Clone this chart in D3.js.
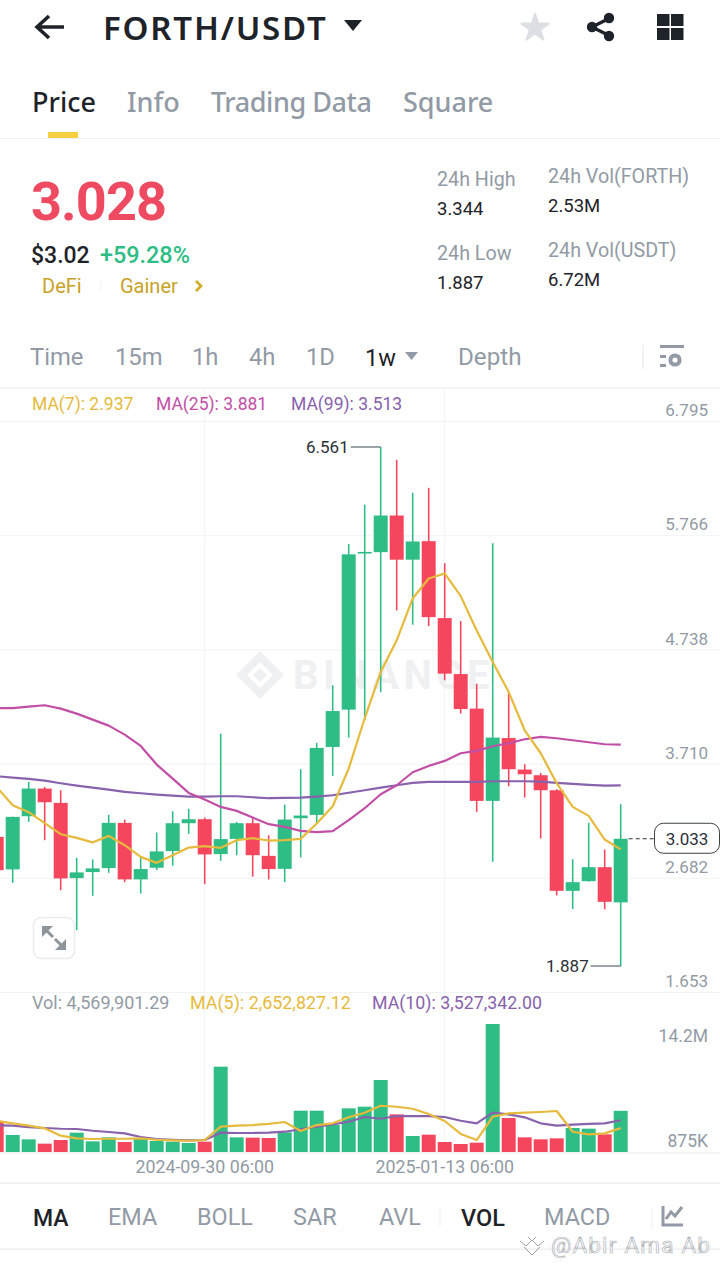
<!DOCTYPE html>
<html><head><meta charset="utf-8">
<script src="https://cdn.jsdelivr.net/npm/d3@7/dist/d3.min.js"></script>
<style>html,body{margin:0;padding:0;background:#fff}svg{display:block}</style></head>
<body><svg id="c" width="720" height="1266" viewBox="0 0 720 1266"></svg>
<script>
const dates=["2024-07-01","2024-07-08","2024-07-15","2024-07-22","2024-07-29","2024-08-05","2024-08-12","2024-08-19","2024-08-26","2024-09-02","2024-09-09","2024-09-16","2024-09-23","2024-09-30","2024-10-07","2024-10-14","2024-10-21","2024-10-28","2024-11-04","2024-11-11","2024-11-18","2024-11-25","2024-12-02","2024-12-09","2024-12-16","2024-12-23","2024-12-30","2025-01-06","2025-01-13","2025-01-20","2025-01-27","2025-02-03","2025-02-10","2025-02-17","2025-02-24","2025-03-03","2025-03-10","2025-03-17","2025-03-24","2025-03-31"];
const open=[3.050,2.757,3.236,3.485,3.356,2.679,2.733,2.769,3.176,2.667,2.772,2.922,3.173,3.209,2.895,3.032,3.173,2.879,2.762,3.218,3.248,3.860,4.196,5.602,5.614,5.944,5.546,5.713,5.020,4.516,4.205,3.374,3.940,3.656,3.605,3.470,2.564,2.651,2.777,2.460];
const high=[3.080,3.232,3.545,3.500,3.470,2.861,2.847,3.248,3.206,2.870,3.090,3.281,3.302,3.224,3.980,3.185,3.224,3.065,3.341,3.659,3.896,4.415,5.687,6.042,6.561,6.445,6.148,6.193,5.515,4.993,4.430,5.695,4.354,3.704,3.626,3.479,2.849,3.176,2.936,3.344];
const low=[2.720,2.636,3.185,3.020,2.570,2.211,2.519,2.726,2.642,2.540,2.750,2.790,3.077,2.624,2.834,2.885,2.691,2.667,2.642,2.865,3.173,3.599,3.944,4.100,4.354,5.089,4.961,4.948,4.460,4.160,3.275,2.825,3.506,3.404,3.035,2.522,2.400,2.646,2.398,1.887];
const close=[2.750,3.230,3.485,3.362,2.676,2.730,2.766,3.176,2.667,2.760,2.919,3.173,3.209,2.892,3.030,3.173,2.885,2.760,3.206,3.242,3.851,4.183,5.594,5.616,5.944,5.546,5.710,5.029,4.520,4.201,3.374,3.944,3.659,3.614,3.470,2.564,2.642,2.777,2.465,3.033];
const ma7=[3.497,3.335,3.272,3.173,3.074,3.041,3.000,3.059,2.975,2.870,2.816,2.885,2.954,2.966,2.951,3.020,3.038,3.017,3.020,3.032,3.170,3.326,3.665,4.118,4.534,4.820,5.197,5.377,5.422,5.218,4.909,4.624,4.354,4.010,3.803,3.533,3.320,3.239,3.026,2.937];
const ma25=[4.210,4.210,4.223,4.235,4.205,4.160,4.106,4.052,3.971,3.869,3.701,3.575,3.446,3.386,3.320,3.284,3.224,3.164,3.140,3.104,3.092,3.101,3.200,3.308,3.434,3.515,3.632,3.689,3.734,3.803,3.824,3.866,3.893,3.929,3.950,3.938,3.920,3.902,3.884,3.881];
const ma99=[3.596,3.584,3.572,3.557,3.533,3.512,3.494,3.476,3.455,3.443,3.431,3.422,3.413,3.413,3.416,3.416,3.407,3.398,3.401,3.404,3.413,3.425,3.447,3.470,3.494,3.515,3.536,3.545,3.545,3.545,3.545,3.551,3.551,3.551,3.548,3.536,3.527,3.518,3.512,3.513];
const volume=[3.36,1.885,1.405,0.924,1.33,2.144,1.183,1.627,1.109,1.442,1.22,1.146,0.998,1.146,9.463,1.627,1.59,1.553,2.181,4.584,4.584,2.994,4.843,5.027,7.985,4.176,1.774,1.922,1.109,0.887,1.035,14.2,3.77,1.627,1.405,1.516,2.662,2.588,1.96,4.57];
const volMa5=[3.44,3.18,2.92,2.63,1.81,1.52,1.44,1.47,1.47,1.52,1.36,1.30,1.25,1.33,2.81,2.92,2.99,3.11,3.33,2.33,2.99,3.18,3.85,4.36,5.13,5.02,4.80,4.21,3.44,2.00,1.33,3.91,4.29,4.36,4.44,4.55,2.25,1.96,2.07,2.65];
const volMa10=[2.96,2.92,2.77,2.66,2.58,2.55,2.36,2.22,2.07,1.66,1.44,1.36,1.30,1.33,2.14,2.11,2.11,2.14,2.25,2.52,2.81,3.07,3.36,3.88,3.69,3.99,3.99,3.99,3.88,3.47,3.18,4.36,4.18,3.85,3.18,2.92,3.03,3.11,3.18,3.527];
const priceTicks=[6.795,5.766,4.738,3.710,2.682,1.653];
const volTicks=[14.2,0.875];
const volTickLabels=["14.2M","875K"];
const dateTicks=["2024-09-30","2025-01-13"];
const lastPrice=3.033, topPrice=6.561, bottomPrice=1.887;

const GREEN="#2EBD85",RED="#F6465D",YEL="#E6BA3C",PINK="#C24FA6",PUR="#8862AC",GREY="#929AA5",INK="#1E2329",GRID="#F1F2F3";
const svg=d3.select("#c");
const T=(s,x,y,size,fill,opts={})=>svg.append("text").text(s).attr("x",x).attr("y",y)
  .attr("font-family",opts.font||"Roboto, sans-serif").attr("font-size",size).attr("fill",fill)
  .attr("font-weight",opts.w||400).attr("text-anchor",opts.a||"start").attr("letter-spacing",opts.ls||0);
const N='"Noto Sans", sans-serif';

// scales
const x=d3.scaleBand().domain(dates).range([-11.3,628.7]).paddingInner(0.125).paddingOuter(0.0625);
const cx=d=>x(d)+x.bandwidth()/2;
const y=d3.scaleLinear().domain([1.653,6.795]).range([992,421]);
const yv=d3.scaleLinear().domain([0,14.2]).range([1152,1024]);

// chrome: header
svg.append("path").attr("d","M64 27H37M49 16L37 27L49 38").attr("fill","none").attr("stroke",INK).attr("stroke-width",3.6);
T("FORTH/USDT",103,40,33,INK,{font:N,w:600,ls:1.8});
svg.append("path").attr("d","M344 20H362L353 31Z").attr("fill",INK);
svg.append("path").attr("d",d3.symbol(d3.symbolStar,230)()).attr("transform","translate(535,28)").attr("fill","#DCDFE3").attr("stroke","#DCDFE3").attr("stroke-width",2).attr("stroke-linejoin","round");
svg.append("path").attr("d","M610 18L592 27L610 36").attr("fill","none").attr("stroke",INK).attr("stroke-width",3.4);
[[609,18],[592,27],[609,36]].forEach(p=>svg.append("circle").attr("cx",p[0]).attr("cy",p[1]).attr("r",5.2).attr("fill",INK));
[[657,14],[671,14],[657,28],[671,28]].forEach(p=>svg.append("rect").attr("x",p[0]).attr("y",p[1]).attr("width",12.5).attr("height",12).attr("fill",INK));
T("Price",32,112,27,INK,{font:N,w:500});
T("Info",127,112,27,GREY,{font:N,w:500});
T("Trading Data",211,112,27,GREY,{font:N,w:500,ls:-0.45});
T("Square",403,112,27,GREY,{font:N,w:500});
svg.append("rect").attr("x",48).attr("y",132).attr("width",30).attr("height",6).attr("fill","#F5CF3D");
svg.append("rect").attr("x",0).attr("y",138).attr("width",720).attr("height",1).attr("fill","#EEF0F1");

// stats
T("3.028",31,220,54,"#EE4B62",{w:700,ls:-0.9});
T("$3.02",31,263,23,INK,{w:500});
T("+59.28%",100,263,23.4,GREEN,{w:500});
T("DeFi",42,293,20,"#C9A227");
T("Gainer",120,293,20,"#C9A227");
svg.append("rect").attr("x",100.5).attr("y",281).attr("width",1).attr("height",10).attr("fill","#EEF0F1");
svg.append("path").attr("d","M196 281L201 286L196 291").attr("fill","none").attr("stroke","#D4AC2C").attr("stroke-width",2.8);
T("24h High",437,186,19.7,GREY);
T("3.344",437,215,18.5,INK);
T("24h Low",437,260,19.7,GREY);
T("1.887",437,289,18.5,INK);
T("24h Vol(FORTH)",548,183,19.7,GREY);
T("2.53M",548,212,18.5,INK);
T("24h Vol(USDT)",548,257,19.7,GREY);
T("6.72M",548,286,18.5,INK);

// interval row
[["Time",30],["15m",115],["1h",192],["4h",249],["1D",306]].forEach(d=>T(d[0],d[1],365,23.8,GREY));
T("Depth",458,365,24.2,GREY);
T("1w",365,366,23.5,INK,{w:400});
svg.append("path").attr("d","M405 352H418L411.5 360Z").attr("fill",GREY);
svg.append("rect").attr("x",642.5).attr("y",345).attr("width",1).attr("height",24).attr("fill","#E6E8EA");
svg.append("rect").attr("x",660).attr("y",345).attr("width",24).attr("height",3).attr("fill",GREY);
svg.append("rect").attr("x",660).attr("y",355).attr("width",6).attr("height",3).attr("fill",GREY);
svg.append("rect").attr("x",660).attr("y",364).attr("width",6).attr("height",3).attr("fill",GREY);
svg.append("circle").attr("cx",675).attr("cy",360).attr("r",4.6).attr("fill","none").attr("stroke",GREY).attr("stroke-width",4);

// panel lines
svg.append("rect").attr("x",0).attr("y",387).attr("width",720).attr("height",1.5).attr("fill",GRID);
dateTicks.forEach(d=>svg.append("rect").attr("x",cx(d)-0.5).attr("y",388).attr("width",1).attr("height",764).attr("fill",GRID));

// price axis (gridlines + labels)
const gy=svg.append("g").call(d3.axisRight(y).tickValues(priceTicks).tickSize(720).tickFormat(d3.format(".3f")));
gy.select(".domain").remove();
gy.selectAll("line").attr("stroke",GRID).attr("stroke-width",1);
gy.selectAll("text").attr("x",708).attr("dy",-5.4).attr("text-anchor","end").attr("font-family","Roboto, sans-serif").attr("font-size",17).attr("fill",GREY);

// watermark
const wm=svg.append("g");
wm.append("path").attr("d","M260 651L284 675L260 699L236 675Z M260 662L247 675L260 688L273 675Z").attr("fill","#EFF0F2").attr("fill-rule","evenodd");
wm.append("rect").attr("x",-5).attr("y",-5).attr("width",10).attr("height",10).attr("transform","translate(260,675) rotate(45)").attr("fill","#EFF0F2");
wm.append("text").text("BINANCE").attr("x",293).attr("y",689).attr("fill","#EFF0F2").attr("font-family","Roboto, sans-serif").attr("font-weight",700).attr("font-size",40).attr("letter-spacing",4.5);

// candles
const idx=d3.range(dates.length);
const col=i=>close[i]>=open[i]?GREEN:RED;
const cg=svg.append("g");
cg.selectAll("line").data(idx).join("line").attr("x1",i=>cx(dates[i])).attr("x2",i=>cx(dates[i]))
  .attr("y1",i=>y(high[i])).attr("y2",i=>y(low[i])).attr("stroke",col).attr("stroke-width",1.6);
cg.selectAll("rect").data(idx).join("rect").attr("x",i=>x(dates[i])).attr("width",x.bandwidth())
  .attr("y",i=>y(Math.max(open[i],close[i]))).attr("height",i=>Math.max(1.6,Math.abs(y(open[i])-y(close[i])))).attr("fill",col);

// MA lines
const line=(arr,sc)=>d3.line().x(i=>cx(dates[i])).y(i=>sc(arr[i]))(idx);
[[ma99,PUR],[ma25,PINK],[ma7,YEL]].forEach(m=>svg.append("path").attr("d",line(m[0],y)).attr("fill","none").attr("stroke",m[1]).attr("stroke-width",2.2).attr("stroke-linejoin","round"));

// legends
T("MA(7): 2.937",32,410,17.5,YEL);
T("MA(25): 3.881",156,410,17.5,PINK);
T("MA(99): 3.513",291,410,17.5,PUR);

// high / low / last markers
const lab="#2B3139";
const hiI=high.indexOf(topPrice), loI=low.indexOf(bottomPrice), lastI=dates.length-1;
svg.append("path").attr("d",`M${cx(dates[hiI])} ${y(topPrice)}H${cx(dates[hiI])-30}`).attr("stroke","#5C6570").attr("stroke-width",1.2);
T("6.561",cx(dates[hiI])-32,y(topPrice)+6,17,lab,{a:"end"});
svg.append("path").attr("d",`M${cx(dates[loI])} ${y(bottomPrice)}H${cx(dates[loI])-30}`).attr("stroke","#5C6570").attr("stroke-width",1.2);
T("1.887",cx(dates[loI])-32,y(bottomPrice)+6,17,lab,{a:"end"});
svg.append("path").attr("d",`M${cx(dates[lastI])+8} ${y(lastPrice)}H654`).attr("stroke","#333").attr("stroke-width",1).attr("stroke-dasharray","4 3");
svg.append("rect").attr("x",654.5).attr("y",y(lastPrice)-15.5).attr("width",65).attr("height",30).attr("rx",9).attr("fill","#fff").attr("stroke","#3A4047").attr("stroke-width",1);
T("3.033",687,y(lastPrice)+6,17,lab,{a:"middle"});

// expand button
svg.append("rect").attr("x",33.5).attr("y",917.5).attr("width",41).attr("height",41).attr("rx",8).attr("fill","#fff").attr("stroke","#EBECEE").attr("stroke-width",1.5);
svg.append("path").attr("d","M42 926H53L42 937Z M66 950H55L66 939Z").attr("fill","#8E949C");
svg.append("path").attr("d","M46 930L53 937M62 946L55 939").attr("stroke","#8E949C").attr("stroke-width",3);

// volume panel
svg.append("rect").attr("x",0).attr("y",1152).attr("width",720).attr("height",1.5).attr("fill",GRID);
T("Vol: 4,569,901.29",32,1009,18,GREY);
T("MA(5): 2,652,827.12",190,1009,17.9,YEL);
T("MA(10): 3,527,342.00",372,1009,17.8,PUR);
svg.append("g").selectAll("rect").data(idx).join("rect").attr("x",i=>x(dates[i])).attr("width",x.bandwidth())
  .attr("y",i=>yv(volume[i])).attr("height",i=>yv(0)-yv(volume[i])).attr("fill",col);
[[volMa10,PUR],[volMa5,YEL]].forEach(m=>svg.append("path").attr("d",line(m[0],yv)).attr("fill","none").attr("stroke",m[1]).attr("stroke-width",2.2).attr("stroke-linejoin","round"));
const volOff=[18,3];
volTicks.forEach((v,i)=>T(volTickLabels[i],708,yv(v)+volOff[i],17.5,GREY,{a:"end"}));

// date axis
const gx=svg.append("g").attr("transform","translate(0,1152)").call(d3.axisBottom(x).tickValues(dateTicks).tickSize(0).tickFormat(d=>d+" 06:00"));
gx.select(".domain").remove();
gx.selectAll("text").attr("y",21).attr("dy",0).attr("font-family","Roboto, sans-serif").attr("font-size",17.8).attr("fill",GREY);

// bottom bar
svg.append("rect").attr("x",0).attr("y",1182.5).attr("width",720).attr("height",1.5).attr("fill","#EEF0F1");
svg.append("rect").attr("x",0).attr("y",1248.5).attr("width",720).attr("height",1.5).attr("fill","#EEF0F1");
T("MA",33,1226,23,INK,{w:500});
[["EMA",108],["BOLL",197],["SAR",293],["AVL",379],["MACD",544]].forEach(d=>T(d[0],d[1],1225,23.4,GREY));
T("VOL",461,1226,23.5,INK,{w:500});
svg.append("rect").attr("x",439.5).attr("y",1207).attr("width",1).attr("height",20).attr("fill","#EEF0F1");
svg.append("rect").attr("x",651.5).attr("y",1208).attr("width",1).attr("height",20).attr("fill","#EEF0F1");
svg.append("path").attr("d","M663 1206V1225H683M666 1219L671 1212L675 1216L682 1207").attr("fill","none").attr("stroke",GREY).attr("stroke-width",3);

// user watermark
svg.append("path").attr("d","M520 1241L526 1246L532 1240L538 1246L544 1241M524 1247L532 1255L540 1247M528 1237L532 1241L536 1237").attr("fill","none").attr("stroke","#9AA0A6").attr("stroke-width",1);
svg.append("text").text("@Abir Ama Ab").attr("x",551).attr("y",1253).attr("font-family","Roboto, sans-serif").attr("font-size",22.5).attr("letter-spacing",1.2).attr("fill","#fff").attr("stroke","#B0B5BA").attr("stroke-width",0.7);
</script></body></html>
